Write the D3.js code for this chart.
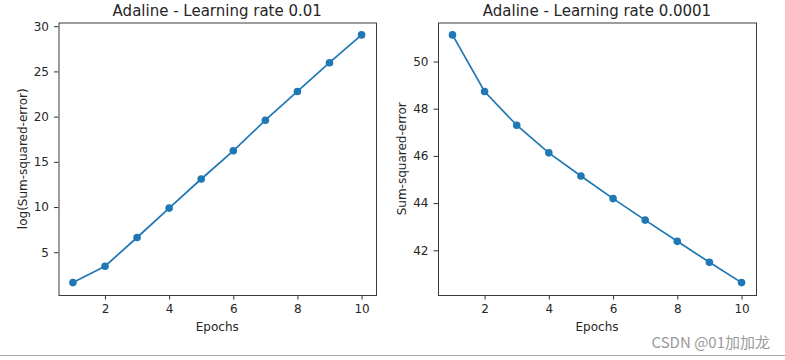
<!DOCTYPE html>
<html>
<head>
  <meta charset="utf-8">
  <script src="https://cdn.jsdelivr.net/npm/d3@7/dist/d3.min.js"></script>
  <style>
    body { margin: 0; background: #fff; }
    svg { display: block; }
    text { font-family: 'DejaVu Sans', sans-serif; fill: #262626; }
    .tick text { font-size: 12px; }
    .tick line { stroke: #333; }
    .domain { display: none; }
    .frame { fill: none; stroke: #3a3a3a; stroke-width: 1; }
    .title { font-size: 15px; }
    .label { font-size: 12px; }
    .line { fill: none; stroke: #1f77b4; stroke-width: 1.7px; }
    .dot { fill: #1f77b4; }
  </style>
</head>
<body>
<div id="chart"></div>
<script>
  // epochs on the x axis
  var epochs = [1, 2, 3, 4, 5, 6, 7, 8, 9, 10];

  // left panel: log of sum-squared-error, eta = 0.01
  var logCost = [1.64, 3.45, 6.63, 9.88, 13.1, 16.22, 19.6, 22.78, 25.96, 29.04];

  // right panel: sum-squared-error, eta = 0.0001
  var sseCost = [51.13, 48.73, 47.30, 46.13, 45.15, 44.19, 43.28, 42.38, 41.49, 40.63];

  var xTicks = [2, 4, 6, 8, 10];
  var leftTicks = [5, 10, 15, 20, 25, 30];
  var rightTicks = [42, 44, 46, 48, 50];

  var svg = d3.select("#chart").append("svg")
      .attr("width", 785)
      .attr("height", 360);

  // padded domain like matplotlib's default 5% margins
  function padded(vals) {
    var ext = d3.extent(vals), pad = (ext[1] - ext[0]) * 0.05;
    return [ext[0] - pad, ext[1] + pad];
  }

  function panel(opts) {
    var g = svg.append("g").attr("transform", "translate(" + opts.left + "," + opts.top + ")");
    var w = opts.width, h = opts.height;

    var x = d3.scaleLinear().domain(padded(epochs)).range([0, w]);
    var y = d3.scaleLinear().domain(padded(opts.values)).range([h, 0]);

    g.append("g")
        .attr("transform", "translate(0," + h + ")")
        .call(d3.axisBottom(x).tickValues(xTicks).tickSize(4.5).tickPadding(5));

    g.append("g")
        .call(d3.axisLeft(y).tickValues(opts.ticks).tickSize(4.5).tickPadding(5));

    g.append("rect").attr("class", "frame")
        .attr("x", 0.5).attr("y", 0.5)
        .attr("width", w).attr("height", h);

    var pts = epochs.map(function(e, i) { return [e, opts.values[i]]; });

    g.append("path").attr("class", "line")
        .attr("d", d3.line().x(function(d) { return x(d[0]); }).y(function(d) { return y(d[1]); })(pts));

    g.selectAll(".dot").data(pts).enter().append("circle")
        .attr("class", "dot")
        .attr("cx", function(d) { return x(d[0]); })
        .attr("cy", function(d) { return y(d[1]); })
        .attr("r", 3.8);

    g.append("text").attr("class", "title")
        .attr("x", w / 2).attr("y", -6.5)
        .attr("text-anchor", "middle")
        .text(opts.title);

    g.append("text").attr("class", "label")
        .attr("x", w / 2).attr("y", h + 35.5)
        .attr("text-anchor", "middle")
        .text("Epochs");

    g.append("text").attr("class", "label")
        .attr("transform", "translate(" + opts.ylabelX + "," + (h / 2) + ") rotate(-90)")
        .attr("text-anchor", "middle")
        .text(opts.ylabel);
  }

  panel({
    left: 58.5, top: 22.5, width: 317.5, height: 272.5,
    values: logCost, ticks: leftTicks,
    title: "Adaline - Learning rate 0.01",
    ylabel: "log(Sum-squared-error)", ylabelX: -32
  });

  panel({
    left: 438, top: 22.5, width: 318, height: 272.5,
    values: sseCost, ticks: rightTicks,
    title: "Adaline - Learning rate 0.0001",
    ylabel: "Sum-squared-error", ylabelX: -32
  });

  // watermark and page rule from the screenshot
  svg.append("text")
      .attr("x", 770).attr("y", 348)
      .attr("text-anchor", "end")
      .style("font-family", "'Noto Sans CJK SC', 'DejaVu Sans', sans-serif")
      .style("font-size", "15px")
      .style("fill", "#9a9a9a")
      .text("CSDN @01加加龙");

  svg.append("line")
      .attr("x1", 0).attr("x2", 785)
      .attr("y1", 355.5).attr("y2", 355.5)
      .attr("stroke", "#aaa").attr("stroke-width", 1.2);
</script>
</body>
</html>
